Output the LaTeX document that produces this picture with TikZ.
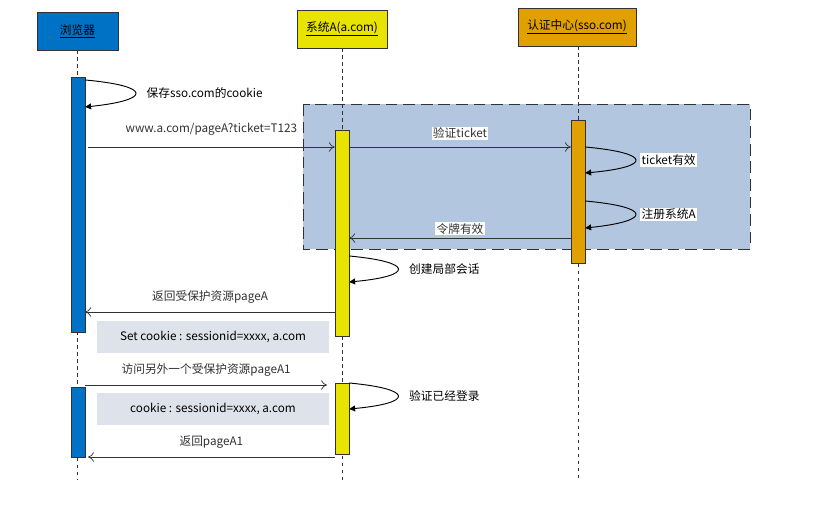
\documentclass[tikz,border=0pt]{standalone}
\usepackage{fontspec}
\setmainfont{Noto Sans CJK SC}
\usetikzlibrary{arrows.meta, positioning}
\definecolor{ssoblue}{RGB}{0, 114, 198}
\definecolor{ssoyellow}{RGB}{232, 228, 0}
\definecolor{ssoorange}{RGB}{224, 160, 0}
\definecolor{ssoregion}{RGB}{178, 198, 224}
\definecolor{ssonote}{RGB}{222, 226, 234}
\definecolor{ssoline}{RGB}{50, 50, 50}

\begin{document}
\begin{tikzpicture}[
    x=0.03cm, y=-0.03cm,
    font=\fontsize{10}{12}\selectfont,
    head/.style={
        rectangle,
        draw=ssoline,
        thick,
        inner sep=0pt,
        font=\fontsize{10}{12}\selectfont
    },
    act/.style={
        rectangle,
        draw=ssoline,
        inner sep=0pt,
        minimum width=0.42cm
    },
    life/.style={
        dashed,
        thick,
        ssoline
    },
    call/.style={
        -{To[length=5pt, width=8pt]},
        semithick,
        ssoline
    },
    self/.style={
        -{Triangle[length=5pt, width=5pt]},
        thick,
        black
    },
    note/.style={
        rectangle,
        fill=ssonote,
        inner sep=0pt,
        minimum width=6.96cm,
        minimum height=0.96cm
    },
    lbl/.style={
        fill=white,
        inner sep=1pt
    }
]

% Background
\fill[white] (0,0) rectangle (835,507);
\fill[ssoregion] (303,104) rectangle (750,249);
\draw[dashed, ssoline, thick, dash pattern=on 10pt off 5pt] (303,104) rectangle (750,249);

% Lifelines
\draw[life] (77,50) -- (77,480);
\draw[life] (342,48) -- (342,480);
\draw[life] (578,46) -- (578,480);

% Headers
\node[head, fill=ssoblue, minimum width=2.43cm, minimum height=1.14cm] (browser) at (77.5,31) {\underline{浏览器}};
\node[head, fill=ssoyellow, minimum width=2.7cm, minimum height=1.14cm] (sysa) at (342,29) {\underline{系统A(a.com)}};
\node[head, fill=ssoorange, minimum width=3.54cm, minimum height=1.14cm] (sso) at (577,27) {\underline{认证中心(sso.com)}};

% Activations
\node[act, fill=ssoblue, minimum height=7.65cm] (b1) at (78,204.5) {};
\node[act, fill=ssoblue, minimum height=2.1cm] (b2) at (78,422) {};
\node[act, fill=ssoyellow, minimum height=6.18cm] (a1) at (342,233) {};
\node[act, fill=ssoyellow, minimum height=2.13cm] (a2) at (342,418.5) {};
\node[act, fill=ssoorange, minimum height=4.29cm] (s1) at (578,191.5) {};

% Notes
\node[note] (setcookie) at (213,337) {Set cookie : sessionid=xxxx, a.com};
\node[note] (cookie) at (213,409) {cookie : sessionid=xxxx, a.com};

% Messages
\draw[call] (88,147) -- (a1.west |- 0,147) node[pos=0.5, above=6pt] {www.a.com/pageA?ticket=T123};
\draw[call] (a1.east |- 0,147) -- (s1.west |- 0,147) node[midway, above=6pt, lbl] {验证ticket};
\draw[call] (s1.west |- 0,238) -- (a1.east |- 0,238) node[midway, above=2pt, lbl] {令牌有效};
\draw[call] (a1.west |- 0,312) -- (b1.east |- 0,312) node[midway, above=4pt] {返回受保护资源pageA};
\draw[call] (b2.east |- 0,385) -- (327,385) node[midway, above=4pt] {访问另外一个受保护资源pageA1};
\draw[call] (a2.west |- 0,457) -- (88,457) node[midway, above=4pt] {返回pageA1};

% Self messages
\draw[self] (b1.east |- 0,80) .. controls (152,86) and (152,100) .. (b1.east |- 0,107) node[pos=0.5, right=6pt] {保存sso.com的cookie};
\draw[self] (s1.east |- 0,147) .. controls (652,153) and (652,167) .. (s1.east |- 0,173) node[pos=0.5, right=4pt, lbl] {ticket有效};
\draw[self] (s1.east |- 0,201) .. controls (652,207) and (652,221) .. (s1.east |- 0,228) node[pos=0.5, right=4pt, lbl] {注册系统A};
\draw[self] (a1.east |- 0,256) .. controls (414,262) and (414,276) .. (a1.east |- 0,282) node[pos=0.5, right=6pt] {创建局部会话};
\draw[self] (a2.east |- 0,383) .. controls (414,389) and (414,403) .. (a2.east |- 0,409) node[pos=0.5, right=6pt] {验证已经登录};

\end{tikzpicture}
\end{document}
